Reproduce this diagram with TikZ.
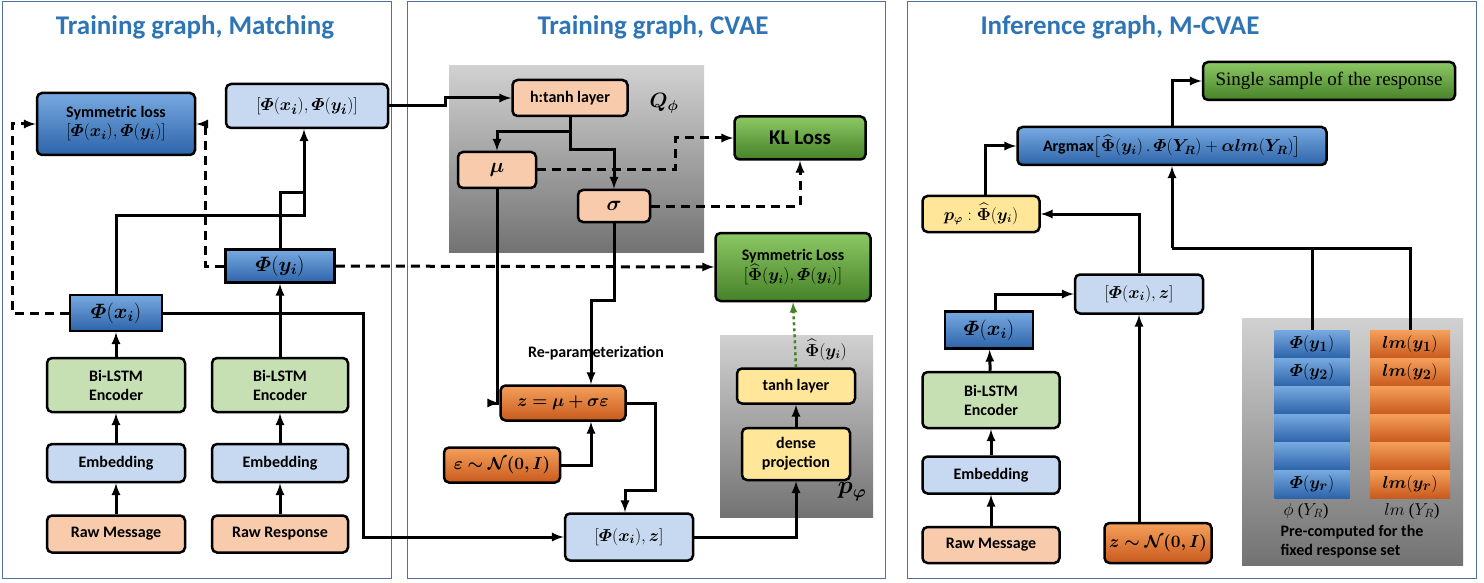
\documentclass[tikz,border=0pt]{standalone}
\usepackage{amsmath}
\usepackage{bm}
\usepackage{fontspec}
\setmainfont{Carlito}
\newfontfamily\serifface{Liberation Serif}
\usetikzlibrary{arrows,positioning,calc}
\definecolor{lblue}{RGB}{198,217,240}
\definecolor{mblueT}{RGB}{120,170,225}
\definecolor{mblueB}{RGB}{45,100,170}
\definecolor{peach}{RGB}{248,203,173}
\definecolor{lgreen}{RGB}{198,224,180}
\definecolor{dgreenT}{RGB}{140,200,100}
\definecolor{dgreenB}{RGB}{70,130,40}
\definecolor{lyellow}{RGB}{255,230,153}
\definecolor{orangeT}{RGB}{245,160,90}
\definecolor{orangeB}{RGB}{200,90,30}
\definecolor{frame}{RGB}{80,110,160}
\definecolor{titleblue}{RGB}{46,117,182}
\newcommand{\Ph}{\bm{\varPhi}}
\tikzstyle{box}   = [draw,line width=2.5pt,rounded corners=5pt,inner sep=0pt,align=center]
\tikzstyle{light} = [box,fill=lblue]
\tikzstyle{deep}  = [box,rounded corners=0pt,top color=mblueT,bottom color=mblueB]
\tikzstyle{loss}  = [box,top color=mblueT,bottom color=mblueB]
\tikzstyle{enc}   = [box,fill=lgreen]
\tikzstyle{raw}   = [box,fill=peach]
\tikzstyle{layer} = [box,fill=peach]
\tikzstyle{proj}  = [box,fill=lyellow]
\tikzstyle{noise} = [box,top color=orangeT,bottom color=orangeB]
\tikzstyle{goal}  = [box,top color=dgreenT,bottom color=dgreenB]
\tikzstyle{panel} = [draw=frame,line width=1pt]
\tikzstyle{greybox} = [top color=black!18,bottom color=black!55]
\tikzstyle{title} = [text=titleblue,font=\bfseries\fontsize{27}{30}\selectfont]
\tikzstyle{flow}  = [line width=3pt,-latex]
\tikzstyle{link}  = [line width=3pt]
\tikzstyle{side}  = [line width=3pt,dashed,dash pattern=on 9pt off 6pt]
\tikzstyle{cellB} = [top color=mblueT,bottom color=mblueB,minimum width=75pt,minimum height=28pt,inner sep=0pt]
\tikzstyle{cellO} = [top color=orangeT,bottom color=orangeB,minimum width=80pt,minimum height=28pt,inner sep=0pt]

\begin{document}
\begin{tikzpicture}[x=1pt,y=-1pt,font=\bfseries\fontsize{16}{19}\selectfont]
                  \useasboundingbox (0,0) rectangle (1484,583);
                  \draw[panel] (2,2) rectangle (391,578);
                  \draw[panel] (407,2) rectangle (885,578);
                  \draw[panel] (907,2) rectangle (1476,578);
                  \node (t1)[title] at (195,27) {Training graph, Matching};
                  \node (t2)[title] at (653,27) {Training graph, CVAE};
                  \node (t3)[title] at (1120,27) {Inference graph, M-CVAE};

                  % matching
                  \node (symloss)[loss,minimum width=158pt,minimum height=62pt] at (116,124) {Symmetric loss\\\fontsize{18}{20}\selectfont$[\Ph(\bm{x_i}),\Ph(\bm{y_i})]$};
                  \node (pair)[light,minimum width=162pt,minimum height=44pt] at (307,106) {\fontsize{19}{21}\selectfont$[\Ph(\bm{x_i}),\Ph(\bm{y_i})]$};
                  \node (phiy)[deep,minimum width=109pt,minimum height=33pt] at (280,266) {\fontsize{20}{22}\selectfont$\Ph(\bm{y_i})$};
                  \node (phix)[deep,minimum width=92pt,minimum height=36pt] at (116,313) {\fontsize{20}{22}\selectfont$\Ph(\bm{x_i})$};
                  \node (encx)[enc,minimum width=138pt,minimum height=54pt] at (116,385) {Bi-LSTM\\Encoder};
                  \node (ency)[enc,minimum width=136pt,minimum height=54pt] at (280,385) {Bi-LSTM\\Encoder};
                  \node (embx)[light,minimum width=138pt,minimum height=38pt] at (116,463) {Embedding};
                  \node (emby)[light,minimum width=136pt,minimum height=38pt] at (280,463) {Embedding};
                  \node (rawx)[raw,minimum width=138pt,minimum height=37pt] at (116,534) {Raw Message};
                  \node (rawy)[raw,minimum width=136pt,minimum height=37pt] at (280,534) {Raw Response};

                  \draw[flow] (rawx) -- (embx);
                  \draw[flow] (embx) -- (encx);
                  \draw[flow] (encx) -- (phix);
                  \draw[flow] (rawy) -- (emby);
                  \draw[flow] (emby) -- (ency);
                  \draw[flow] (ency) -- (phiy);
                  \draw[link] (phix.north) |- (304,215) -- (304,193);
                  \draw[link] (phiy.north) |- (304,193);
                  \draw[flow] (304,193) -- (pair.south -| 304,0);
                  \draw[side,-latex] (phix.west) -| (12,124) -- (symloss.west);
                  \draw[side,-latex] (phiy.west) -| (205,124) -- (symloss.east);

                  % cvae
                  \fill[greybox] (449,66) rectangle (704,252);
                  \fill[greybox] (720,335) rectangle (873,517);
                  \node (qlab) at (664,103) {\fontsize{22}{24}\selectfont$\bm{Q_\phi}$};
                  \node (plab) at (852,492) {\fontsize{24}{26}\selectfont$\bm{p_\varphi}$};
                  \node (htanh)[layer,minimum width=115pt,minimum height=36pt] at (570,98) {h:tanh layer};
                  \node (mu)[layer,minimum width=78pt,minimum height=36pt] at (497,170) {\fontsize{20}{22}\selectfont$\bm\mu$};
                  \node (sigma)[layer,minimum width=72pt,minimum height=32pt] at (614,206) {\fontsize{20}{22}\selectfont$\bm\sigma$};
                  \node (kl)[goal,minimum width=131pt,minimum height=43pt] at (800,138) {\fontsize{21}{24}\selectfont KL Loss};
                  \node (symloss2)[goal,minimum width=155pt,minimum height=68pt] at (793,267) {Symmetric Loss\\$[\widehat{\bm\Phi}(\bm{y_i}),\Ph(\bm{y_i})]$};
                  \node (reparam) at (596,353) {Re-parameterization};
                  \node (zz)[noise,minimum width=125pt,minimum height=35pt] at (563,403) {$\bm{z=\mu+\sigma\varepsilon}$};
                  \node (eps)[noise,minimum width=116pt,minimum height=35pt] at (502,465) {$\bm{\varepsilon\sim\mathcal{N}(0,I)}$};
                  \node (xz)[light,minimum width=128pt,minimum height=47pt] at (629,537) {\fontsize{18}{20}\selectfont$[\Ph(\bm{x_i}),\bm z]$};
                  \node (tanh)[proj,minimum width=118pt,minimum height=35pt] at (796,386) {tanh layer};
                  \node (dense)[proj,minimum width=108pt,minimum height=52pt] at (796,454) {dense\\projection};
                  \node (hatlab) at (826,350) {$\widehat{\bm\Phi}(\bm{y_i})$};

                  \draw[flow] (pair.east) -| (445,98) -- (htanh.west);
                  \draw[flow] (htanh.south) |- (497,132) -- (mu.north);
                  \draw[flow] (htanh.south) |- (614,150) -- (sigma.north);
                  \draw[side,-latex] (mu.east) -| (675,138) -- (kl.west);
                  \draw[side,-latex] (sigma.east) -| (kl.south);
                  \draw[side,-latex] (phiy.east) -- (symloss2.west);
                  \draw[flow] (mu.south) |- (zz.west);
                  \draw[flow] (sigma.south) |- (591,300) -- (zz.north -| 591,0);
                  \draw[flow] (eps.east) -| (zz.south -| 591,0);
                  \draw[flow] (zz.east) -| (655,490) -| (xz.north -| 625,0);
                  \draw[flow] (phix.east) -| (363,537) -- (xz.west);
                  \draw[flow] (xz.east) -| (dense.south);
                  \draw[flow] (dense) -- (tanh);
                  \draw[line width=2.5pt,-latex,dashed,draw=dgreenB] (tanh.north) -- (symloss2.south);

                  % inference
                  \node (single)[goal,minimum width=252pt,minimum height=38pt] at (1329,81) {\serifface\mdseries\fontsize{19}{22}\selectfont Single sample of the response};
                  \node (argmax)[loss,minimum width=309pt,minimum height=38pt] at (1172,146) {Argmax\fontsize{18}{20}\selectfont$\bigl[\widehat{\bm\Phi}(\bm{y_i})\,.\,\Ph(\bm{Y_R})+\bm{\alpha lm}(\bm{Y_R})\bigr]$};
                  \node (pphi)[proj,minimum width=117pt,minimum height=36pt] at (981,214) {$\bm{p_\varphi}:\widehat{\bm\Phi}(\bm{y_i})$};
                  \node (xz3)[light,minimum width=128pt,minimum height=39pt] at (1139,294) {\fontsize{18}{20}\selectfont$[\Ph(\bm{x_i}),\bm z]$};
                  \node (phix3)[deep,minimum width=88pt,minimum height=37pt] at (989,330) {\fontsize{20}{22}\selectfont$\Ph(\bm{x_i})$};
                  \node (enc3)[enc,minimum width=137pt,minimum height=56pt] at (991,400) {Bi-LSTM\\Encoder};
                  \node (emb3)[light,minimum width=137pt,minimum height=37pt] at (991,475) {Embedding};
                  \node (raw3)[raw,minimum width=137pt,minimum height=36pt] at (991,545) {Raw Message};
                  \node (z3)[noise,minimum width=107pt,minimum height=40pt] at (1158,543) {$\bm{z\sim\mathcal{N}(0,I)}$};

                  \fill[greybox] (1242,318) rectangle (1463,565);
                  \foreach \k/\lab/\labo in {0/\Ph(\bm{y_1})/\bm{lm}(\bm{y_1}),1/\Ph(\bm{y_2})/\bm{lm}(\bm{y_2}),2//,3//,4//,5/\Ph(\bm{y_r})/\bm{lm}(\bm{y_r})}{
                    \node (b\k)[cellB] at (1312,{344+28*\k}) {\fontsize{19}{21}\selectfont$\lab$};
                    \node (o\k)[cellO] at (1410,{344+28*\k}) {\fontsize{19}{21}\selectfont$\labo$};
                  }
                  \node (philab) at (1306,511) {\serifface\mdseries\fontsize{17}{19}\selectfont$\phi$ ($Y_R$)};
                  \node (lmlab) at (1412,511) {\serifface\mdseries\fontsize{17}{19}\selectfont$lm$ ($Y_R$)};
                  \node (pre)[align=left] at (1352,542) {Pre-computed for the\\fixed response set};

                  \draw[flow] (raw3) -- (emb3);
                  \draw[flow] (emb3) -- (enc3);
                  \draw[flow] (enc3) -- (phix3);
                  \draw[flow] (phix3.north -| 995,0) |- (xz3.west);
                  \draw[flow] (z3.north -| 1139,0) -- (xz3.south);
                  \draw[flow] (xz3.north) |- (pphi.east);
                  \draw[flow] (pphi.north -| 985,0) |- (argmax.west);
                  \draw[flow] (argmax.north) |- (single.west);
                  \draw[link] (b0.north) |- (1172,248);
                  \draw[link] (o0.north) |- (1172,248);
                  \draw[flow] (1172,248) -- (argmax.south);
            \end{tikzpicture}
\end{document}
